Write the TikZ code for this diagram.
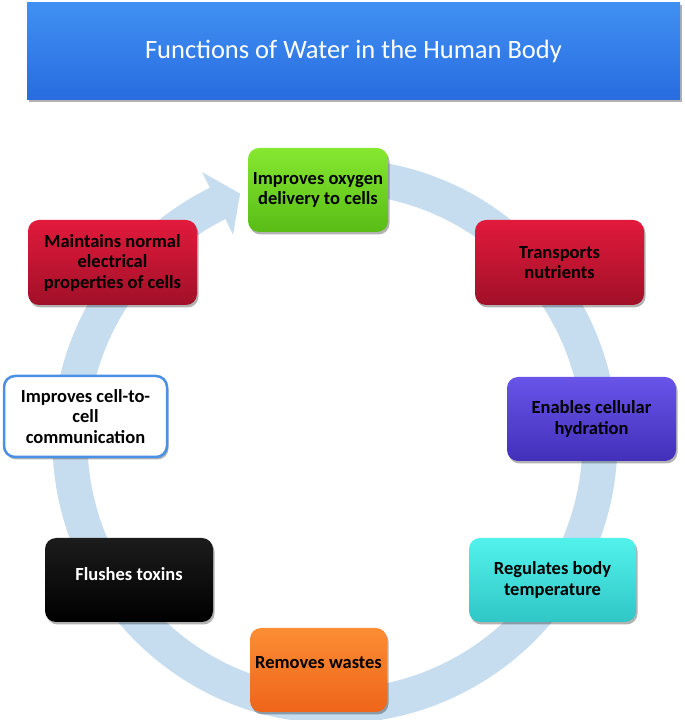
\documentclass[tikz,border=0pt]{standalone}
\usepackage{fontspec}
\setmainfont{Carlito}
\usetikzlibrary{shadows}
\definecolor{ringblue}{RGB}{198,221,239}
\definecolor{titletop}{RGB}{64,144,242}
\definecolor{titlebot}{RGB}{40,108,224}
\definecolor{greentop}{RGB}{134,232,48}
\definecolor{greenbot}{RGB}{88,188,22}
\definecolor{redtop}{RGB}{226,26,60}
\definecolor{redbot}{RGB}{160,16,40}
\definecolor{purpletop}{RGB}{104,84,232}
\definecolor{purplebot}{RGB}{66,48,186}
\definecolor{cyantop}{RGB}{82,242,236}
\definecolor{cyanbot}{RGB}{48,198,198}
\definecolor{orangetop}{RGB}{252,142,52}
\definecolor{orangebot}{RGB}{238,100,26}
\definecolor{blacktop}{RGB}{28,28,28}
\definecolor{blackbot}{RGB}{0,0,0}
\definecolor{whiteborder}{RGB}{74,144,228}
\tikzset{
  shad/.style={drop shadow={shadow xshift=1.5pt,shadow yshift=-2.5pt,opacity=0.3,fill=black}},
  fbox/.style={shad, rounded corners=11pt, align=center, inner sep=4pt,
    font=\bfseries\fontsize{18.5}{20.5}\selectfont, text=black},
  greenbox/.style={fbox, top color=greentop, bottom color=greenbot},
  redbox/.style={fbox, top color=redtop, bottom color=redbot},
  purplebox/.style={fbox, top color=purpletop, bottom color=purplebot},
  cyanbox/.style={fbox, top color=cyantop, bottom color=cyanbot},
  orangebox/.style={fbox, top color=orangetop, bottom color=orangebot},
  blackbox/.style={fbox, top color=blacktop, bottom color=blackbot, text=white},
  whitebox/.style={fbox, fill=white, draw=whiteborder, line width=2.5pt},
  titlebox/.style={shad, top color=titletop, bottom color=titlebot, text=white,
    font=\fontsize{26.5}{30}\selectfont},
  ring/.style={draw=ringblue, line width=35pt},
}
\begin{document}
\begin{tikzpicture}[x=1pt,y=1pt]
\useasboundingbox (0,0) rectangle (685,720);
% circular arrow
\begin{scope}[shift={(335,279)}]
  \draw[ring] (84:265pt) arc[start angle=84, end angle=-244.6, radius=265pt];
  \fill[ringblue] (116.3:300pt) -- (111:265pt) -- (116.3:230pt) -- cycle;
\end{scope}
% title
\node[titlebox, minimum width=653pt, minimum height=97pt] (title) at (353.5,668.5)
  {Functions of Water in the Human Body};
% boxes
\node[greenbox, minimum width=140pt, minimum height=84pt] (oxy) at (318,530)
  {Improves oxygen\\delivery to cells};
\node[redbox, minimum width=169pt, minimum height=85pt] (nut) at (559.5,457.5)
  {Transports\\nutrients};
\node[purplebox, minimum width=169pt, minimum height=84pt] (hyd) at (591.5,301)
  {Enables cellular\\hydration};
\node[cyanbox, minimum width=167pt, minimum height=84pt] (temp) at (552.5,140)
  {Regulates body\\temperature};
\node[orangebox, minimum width=137pt, minimum height=84pt, text depth=14pt] (waste) at (318.5,50)
  {Removes wastes};
\node[blackbox, minimum width=168pt, minimum height=84pt, text depth=12pt] (tox) at (129,140)
  {Flushes toxins};
\node[whitebox, minimum width=163pt, minimum height=81pt] (comm) at (85.5,303.5)
  {Improves cell-to-\\cell\\communication};
\node[redbox, minimum width=169pt, minimum height=85pt] (elec) at (112.5,457.5)
  {Maintains normal\\electrical\\properties of cells};
\end{tikzpicture}
\end{document}
